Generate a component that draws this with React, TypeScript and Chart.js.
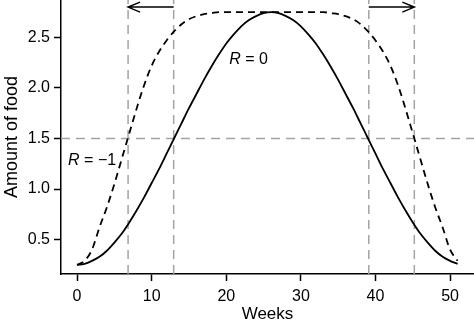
import { useEffect, useRef } from "react";
import { Chart, registerables } from "chart.js";

Chart.register(...registerables);

const FONT = '"Liberation Sans", Arial, Helvetica, sans-serif';

// Weeks sampled along the curves
const weeks = [
  0, 1, 2, 3, 4, 5, 6, 7, 8, 9, 10, 11, 12, 13, 14, 15, 16, 17, 18, 19, 20, 21, 22, 23, 24, 25,
  26, 27, 28, 29, 30, 31, 32, 33, 34, 35, 36, 37, 38, 39, 40, 41, 42, 43, 44, 45, 46, 47, 48, 49, 50, 51,
];

// Solid curve, R = 0
const foodR0 = [
  0.25, 0.26, 0.29, 0.33, 0.39, 0.47, 0.56, 0.67, 0.79, 0.92, 1.06, 1.2, 1.35, 1.5, 1.65, 1.8, 1.94,
  2.08, 2.21, 2.33, 2.44, 2.53, 2.61, 2.67, 2.71, 2.74, 2.75, 2.74, 2.71, 2.67, 2.61, 2.53, 2.44, 2.33,
  2.21, 2.08, 1.94, 1.8, 1.65, 1.5, 1.35, 1.2, 1.06, 0.92, 0.79, 0.67, 0.56, 0.47, 0.39, 0.33, 0.29, 0.26,
];

// Dashed curve, R = -1
const foodRm1 = [
  0.25, 0.29, 0.4, 0.62, 0.82, 1.05, 1.3, 1.55, 1.8, 2.03, 2.22, 2.36, 2.47, 2.56, 2.63, 2.68, 2.71,
  2.73, 2.74, 2.75, 2.75, 2.75, 2.75, 2.75, 2.75, 2.75, 2.75, 2.75, 2.75, 2.75, 2.75, 2.75, 2.75, 2.75,
  2.74, 2.73, 2.71, 2.68, 2.63, 2.56, 2.47, 2.36, 2.22, 2.03, 1.8, 1.55, 1.3, 1.05, 0.82, 0.62, 0.4, 0.29,
];

// Reference lines
const refWeeks = [6.84, 12.95, 39.1, 45.2];
const refFood = 1.5;

// Arrows (from, to) at the top
const arrowLevel = 2.8;
const leftArrow = [12.95, 6.84];
const rightArrow = [39.1, 45.2];

// Tick labels
const xTicks = [0, 10, 20, 30, 40, 50];
const yTicks = [0.5, 1.0, 1.5, 2.0, 2.5];

// Axis ranges
const X_MIN = -2.15;
const X_MAX = 53.2;
const Y_MIN = 0.16;
const Y_MAX = 2.87;

const annotPlugin = {
  id: "annot",
  afterDatasetsDraw(chart: any) {
    const ctx = chart.ctx as CanvasRenderingContext2D;
    const xs = chart.scales.x;
    const ys = chart.scales.y;
    ctx.save();
    ctx.strokeStyle = "#000";
    ctx.lineWidth = 1.5;
    const drawArrow = (from: number, to: number) => {
      const x0 = xs.getPixelForValue(from);
      const x1 = xs.getPixelForValue(to);
      const y = ys.getPixelForValue(arrowLevel);
      const dir = x1 > x0 ? 1 : -1;
      ctx.beginPath();
      ctx.moveTo(x0, y);
      ctx.lineTo(x1, y);
      ctx.moveTo(x1 - dir * 12, y - 5);
      ctx.lineTo(x1, y);
      ctx.lineTo(x1 - dir * 12, y + 5);
      ctx.stroke();
    };
    drawArrow(leftArrow[0], leftArrow[1]);
    drawArrow(rightArrow[0], rightArrow[1]);

    const drawLabel = (wx: number, wy: number, rest: string) => {
      const x = xs.getPixelForValue(wx);
      const y = ys.getPixelForValue(wy);
      ctx.fillStyle = "#000";
      ctx.textBaseline = "middle";
      ctx.textAlign = "left";
      ctx.font = `italic 16px ${FONT}`;
      ctx.fillText("R", x, y);
      const w = ctx.measureText("R").width;
      ctx.font = `16px ${FONT}`;
      ctx.fillText(rest, x + w, y);
    };
    drawLabel(20.4, 2.28, " = 0");
    drawLabel(-1.2, 1.28, " = −1");
    ctx.restore();
  },
};

export default function App() {
  const ref = useRef<HTMLCanvasElement>(null);
  useEffect(() => {
    document.body.style.margin = "0";
    const canvas = ref.current!;
    const solidPts = weeks.map((w, i) => ({ x: w, y: foodR0[i] }));
    const dashedPts = weeks.map((w, i) => ({ x: w, y: foodRm1[i] }));
    const gray = "#a3a3a3";
    const refSets = refWeeks.map((w) => ({
      data: [
        { x: w, y: Y_MIN },
        { x: w, y: Y_MAX },
      ],
      borderColor: gray,
      borderWidth: 1.5,
      borderDash: [9, 6],
      pointRadius: 0,
      tension: 0,
    }));
    const chart = new Chart(canvas, {
      type: "line",
      data: {
        datasets: [
          {
            data: solidPts,
            borderColor: "#000",
            borderWidth: 1.8,
            pointRadius: 0,
            cubicInterpolationMode: "monotone",
          },
          {
            data: dashedPts,
            borderColor: "#000",
            borderWidth: 1.8,
            borderDash: [7, 5],
            pointRadius: 0,
            cubicInterpolationMode: "monotone",
          },
          ...refSets,
          {
            data: [
              { x: X_MIN, y: refFood },
              { x: X_MAX, y: refFood },
            ],
            borderColor: gray,
            borderWidth: 1.5,
            borderDash: [9, 6],
            pointRadius: 0,
            tension: 0,
          },
        ] as any,
      },
      options: {
        animation: false,
        responsive: false,
        maintainAspectRatio: false,
        layout: { padding: 0 },
        plugins: { legend: { display: false }, tooltip: { enabled: false } },
        scales: {
          x: {
            type: "linear",
            min: X_MIN,
            max: X_MAX,
            afterBuildTicks: (s: any) => {
              s.ticks = xTicks.map((v) => ({ value: v }));
            },
            afterFit: (s: any) => {
              s.height = 52;
              s.paddingLeft = 0;
              s.paddingRight = 0;
              s.paddingTop = 0;
              s.paddingBottom = 0;
            },
            grid: {
              drawOnChartArea: false,
              drawTicks: true,
              tickLength: 7,
              tickColor: "#000",
              tickWidth: 1.5,
            },
            border: { color: "#000", width: 1.5 },
            ticks: {
              color: "#000",
              font: { family: FONT, size: 16 },
              padding: 6,
              maxRotation: 0,
              autoSkip: false,
              callback: (v: any) => String(v),
            },
            title: {
              display: true,
              text: "Weeks",
              color: "#000",
              font: { family: FONT, size: 17 },
              padding: { top: 0, bottom: 1 },
            },
          },
          y: {
            type: "linear",
            min: Y_MIN,
            max: Y_MAX,
            afterBuildTicks: (s: any) => {
              s.ticks = yTicks.map((v) => ({ value: v }));
            },
            afterFit: (s: any) => {
              s.width = 61;
              s.paddingLeft = 0;
              s.paddingRight = 0;
              s.paddingTop = 0;
              s.paddingBottom = 0;
            },
            grid: {
              drawOnChartArea: false,
              drawTicks: true,
              tickLength: 7,
              tickColor: "#000",
              tickWidth: 1.5,
            },
            border: { color: "#000", width: 1.5 },
            ticks: {
              color: "#000",
              font: { family: FONT, size: 16 },
              padding: 4,
              autoSkip: false,
              callback: (v: any) => Number(v).toFixed(1),
            },
            title: {
              display: true,
              text: "Amount of food",
              color: "#000",
              font: { family: FONT, size: 18 },
              padding: { top: 1, bottom: 0 },
            },
          },
        },
      } as any,
      plugins: [annotPlugin],
    });
    return () => chart.destroy();
  }, []);
  return <canvas ref={ref} width={474} height={326} style={{ display: "block" }} />;
}
